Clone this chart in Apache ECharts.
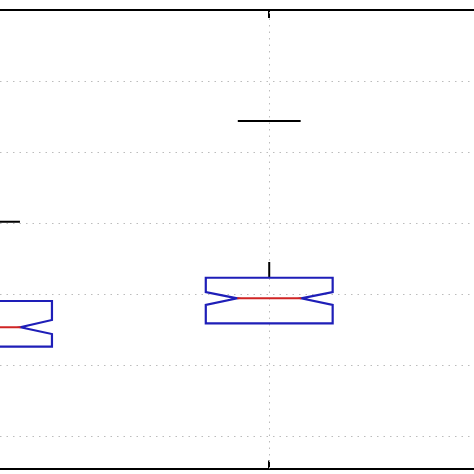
<!DOCTYPE html>
<html>
<head>
<meta charset="utf-8">
<script src="https://cdn.jsdelivr.net/npm/echarts@6/dist/echarts.min.js"></script>
<style>html,body{margin:0;padding:0;background:#fff}#c{width:474px;height:474px}</style>
</head>
<body>
<div id="c"></div>
<script>
// Data (y in axis units; gridlines at whole numbers)
const positions   = [1, 2];
const q1          = [1.268, 1.597];
const q3          = [1.911, 2.239];
const medians     = [1.541, 1.949];
const notchLow    = [1.446, 1.855];
const notchHigh   = [1.644, 2.038];
const whiskerTop  = [2.30, 2.461];
const upperCap    = [3.028, 4.446];
const yGridValues = [0, 1, 2, 3, 4, 5];
const xTickValues = [1, 2];

const boxData = positions.map((p, i) => [p, q1[i], q3[i], medians[i], notchLow[i], notchHigh[i], whiskerTop[i], upperCap[i]]);

const chart = echarts.init(document.getElementById('c'), null, {renderer: 'canvas'});

function renderBox(params, api) {
  const x = api.value(0);
  const unit = api.size([1, 0])[0];
  const hw = unit * 0.226;
  const nw = unit * 0.114;
  const cw = unit * 0.112;
  const c = api.coord([x, api.value(3)]);
  const cx = c[0];
  const yQ1 = api.coord([x, api.value(1)])[1];
  const yQ3 = api.coord([x, api.value(2)])[1];
  const yMed = c[1];
  const yNLo = api.coord([x, api.value(4)])[1];
  const yNHi = api.coord([x, api.value(5)])[1];
  const yWT = api.coord([x, api.value(6)])[1];
  const yCap = api.coord([x, api.value(7)])[1];
  const L = cx - hw, R = cx + hw;
  const blue = '#1e1eb8';
  return {
    type: 'group',
    children: [
      {type: 'line', shape: {x1: cx, y1: yQ3, x2: cx, y2: yWT}, style: {stroke: '#000', lineWidth: 2}},
      {type: 'line', shape: {x1: cx - cw, y1: yCap, x2: cx + cw, y2: yCap}, style: {stroke: '#000', lineWidth: 2}},
      {type: 'polygon', shape: {points: [
        [L, yQ3], [R, yQ3], [R, yNHi], [cx + nw, yMed], [R, yNLo], [R, yQ1],
        [L, yQ1], [L, yNLo], [cx - nw, yMed], [L, yNHi]
      ]}, style: {fill: 'none', stroke: blue, lineWidth: 2.2, lineJoin: 'miter'}},
      {type: 'line', shape: {x1: cx - nw, y1: yMed, x2: cx + nw, y2: yMed}, style: {stroke: '#d02424', lineWidth: 2}}
    ]
  };
}

const xCommon = {
  type: 'value', min: 1.0409, max: 2.7295,
  axisLine: {show: true, onZero: false, lineStyle: {color: '#000', width: 2}},
  axisTick: {show: true, inside: true, length: 8, customValues: xTickValues, lineStyle: {color: '#000', width: 2}},
  axisLabel: {show: false},
  splitLine: {show: false}
};

const gridStyle = {color: '#bcbcbc', width: 1, type: [1.5, 5]};

chart.setOption({
  animation: false,
  backgroundColor: '#fff',
  grid: {left: 0, right: 0, top: 10, bottom: 5.5},
  xAxis: [
    Object.assign({}, xCommon, {position: 'bottom'}),
    Object.assign({}, xCommon, {position: 'top'})
  ],
  yAxis: {
    type: 'value', min: -0.448, max: 6.01,
    axisLine: {show: false}, axisTick: {show: false}, axisLabel: {show: false},
    splitLine: {show: false}
  },
  series: [
    {
      type: 'line', data: [], silent: true,
      markLine: {
        silent: true, symbol: 'none', label: {show: false},
        lineStyle: gridStyle,
        data: yGridValues.map(v => ({yAxis: v})).concat(xTickValues.map(v => ({xAxis: v})))
      }
    },
    {
      type: 'custom', xAxisIndex: 0, yAxisIndex: 0,
      renderItem: renderBox,
      encode: {x: 0, y: [1, 2, 3, 4, 5, 6, 7]},
      data: boxData, z: 5
    }
  ]
});
</script>
</body>
</html>
